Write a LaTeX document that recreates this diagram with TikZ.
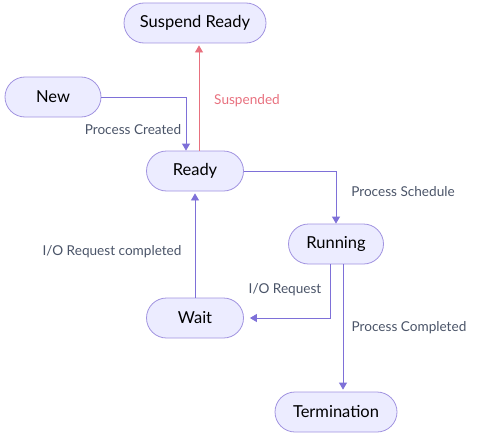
\documentclass[tikz,border=0pt]{standalone}
\usepackage{fontspec}
\setmainfont{Lato}
\usetikzlibrary{arrows.meta}
\definecolor{statefill}{HTML}{ECECFF}
\definecolor{stateline}{HTML}{A193E0}
\definecolor{edgeline}{HTML}{7E70D8}
\definecolor{edgetext}{HTML}{4A5468}
\definecolor{suspline}{HTML}{E8707E}
\tikzset{
  state/.style={draw=stateline,fill=statefill,thick,rounded corners=20pt,
    minimum height=40pt,inner sep=0pt,font=\fontsize{16.5}{19}\selectfont},
  trans/.style={draw=edgeline,thick,-{Triangle[length=7pt,width=8pt]}},
  translabel/.style={text=edgetext,font=\fontsize{13.6}{16}\selectfont,inner sep=0pt}
}
\begin{document}
\begin{tikzpicture}[x=1pt,y=-1pt]
  \useasboundingbox (0,0) rectangle (489,444);

  \node[state,minimum width=142pt] (suspend) at (195,23) {Suspend Ready};
  \node[state,minimum width=96pt] (new) at (53,97) {New};
  \node[state,minimum width=97pt] (ready) at (195,171) {Ready};
  \node[state,minimum width=95pt] (running) at (336,244) {Running};
  \node[state,minimum width=97pt] (wait) at (195,318) {Wait};
  \node[state,minimum width=122pt] (term) at (336,412) {Termination};

  \draw[trans] (new.east) -| ([xshift=-9pt]ready.north);
  \draw[trans,draw=suspline,shorten >=2pt]
    ([xshift=4pt]ready.north) -- ([xshift=4pt]suspend.south);
  \draw[trans] (ready.east) -| (running.north);
  \draw[trans,shorten >=2pt] (wait.north) -- (ready.south);
  \draw[trans,shorten >=6pt] ([xshift=-6pt]running.south) |- (wait.east);
  \draw[trans,shorten >=2pt] ([xshift=7pt]running.south) -- ([xshift=7pt]term.north);

  \node[translabel] (created) at (133,130) {Process Created};
  \node[translabel,text=suspline] (suspended) at (247,101) {Suspended};
  \node[translabel] (schedule) at (403,192) {Process Schedule};
  \node[translabel] (iodone) at (112,252) {I/O Request completed};
  \node[translabel] (ioreq) at (285,290) {I/O Request};
  \node[translabel] (completed) at (409,328) {Process Completed};
\end{tikzpicture}
\end{document}
